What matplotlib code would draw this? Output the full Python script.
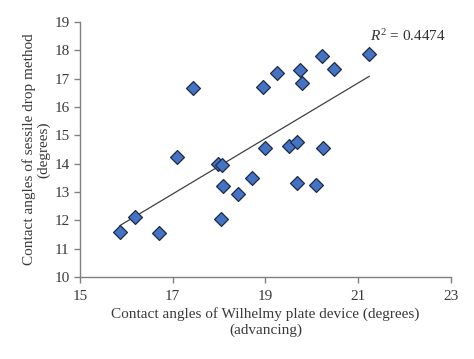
import matplotlib
matplotlib.use('Agg')
import matplotlib.pyplot as plt
import numpy as np

# wilhelmy plate (advancing) vs sessile drop contact angles, degrees
wilhelmy = [15.86, 16.19, 16.71, 17.10, 17.44, 17.98, 18.07, 18.09, 18.05, 18.40,
            18.70, 18.95, 19.00, 19.24, 19.51, 19.69, 19.74, 19.79, 19.69, 20.10,
            20.23, 20.24, 20.49, 21.24]
sessile = [11.59, 12.13, 11.54, 14.25, 16.67, 13.99, 13.96, 13.22, 12.06, 12.93,
           13.49, 16.70, 14.57, 17.20, 14.64, 14.75, 17.29, 16.84, 13.33, 13.25,
           17.81, 14.57, 17.35, 17.87]
r2_text = '$R^2$ = 0.4474'

plt.rcParams['font.family'] = ['Liberation Serif', 'DejaVu Serif']
plt.rcParams['mathtext.fontset'] = 'custom'
plt.rcParams['mathtext.it'] = 'Liberation Serif:italic'
plt.rcParams['mathtext.rm'] = 'Liberation Serif'

fig = plt.figure(figsize=(4.74, 3.59), dpi=100)
ax = fig.add_axes([0.169, 0.228, 0.782, 0.711])

x = np.array(wilhelmy); y = np.array(sessile)
a, b = np.polyfit(x, y, 1)
xs = np.array([x.min(), x.max()])
ax.plot(xs, a*xs+b, color='#404040', lw=0.9, zorder=2)

ax.scatter(x, y, marker='D', s=50, facecolor='#4472C4', edgecolor='#1F2A44',
           linewidth=0.9, zorder=3)

ax.text(21.25, 18.5, r2_text, fontsize=11, color='#333333', ha='left', va='center')

ax.set_xlim(15, 23)
ax.set_ylim(10, 19)
ax.set_xticks([15, 17, 19, 21, 23])
ax.set_yticks(range(10, 20))
for s in ['top', 'right']:
    ax.spines[s].set_visible(False)
for s in ['left', 'bottom']:
    ax.spines[s].set_color('#808080')
    ax.spines[s].set_linewidth(1.0)
ax.tick_params(colors='#808080', labelcolor='#3a3a3a', labelsize=11, length=4, width=1)
ax.tick_params(axis='x', pad=5)
ax.set_xlabel('Contact angles of Wilhelmy plate device (degrees)\n(advancing)',
              fontsize=11, color='#3a3a3a', labelpad=3, linespacing=1.3)
ax.set_ylabel('Contact angles of sessile drop method\n(degrees)',
              fontsize=11, color='#3a3a3a', labelpad=3, linespacing=1.1)

fig.savefig('out.png', dpi=100)
